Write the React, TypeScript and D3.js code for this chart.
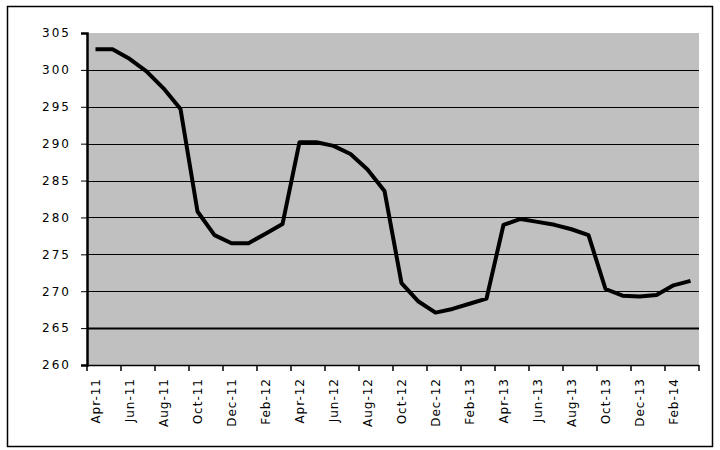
import { FC, useEffect, useRef } from "react";
import * as d3 from "d3";

// monthly categories, Apr-11 .. Mar-14
const months = [
    "Apr-11", "May-11", "Jun-11", "Jul-11", "Aug-11", "Sep-11", "Oct-11", "Nov-11", "Dec-11",
    "Jan-12", "Feb-12", "Mar-12", "Apr-12", "May-12", "Jun-12", "Jul-12", "Aug-12", "Sep-12",
    "Oct-12", "Nov-12", "Dec-12", "Jan-13", "Feb-13", "Mar-13", "Apr-13", "May-13", "Jun-13",
    "Jul-13", "Aug-13", "Sep-13", "Oct-13", "Nov-13", "Dec-13", "Jan-14", "Feb-14", "Mar-14"
];

const values = [
    302.8, 302.8, 301.5, 299.8, 297.5, 294.7, 280.8, 277.6, 276.5,
    276.5, 277.8, 279.1, 290.2, 290.2, 289.7, 288.6, 286.5, 283.6,
    271.1, 268.6, 267.1, 267.6, 268.3, 269.0, 279.0, 279.8, 279.4,
    279.0, 278.4, 277.6, 270.3, 269.4, 269.3, 269.5, 270.8, 271.4
];

const yTicks = [260, 265, 270, 275, 280, 285, 290, 295, 300, 305];

const App: FC = () => {
    const ref = useRef<SVGSVGElement>(null);

    useEffect(() => {
        const svg = d3.select(ref.current);
        svg.selectAll("*").remove();

        var margin = { top: 33, right: 21, bottom: 85, left: 87 },
            width = 720 - margin.left - margin.right,
            height = 450 - margin.top - margin.bottom;

        // outer frame
        svg.append("rect")
            .attr("x", 7.5).attr("y", 6.5)
            .attr("width", 705).attr("height", 440)
            .attr("fill", "#fff")
            .attr("stroke", "#000")
            .attr("stroke-width", 1.5);

        var g = svg.append("g")
            .attr("transform", "translate(" + margin.left + "," + margin.top + ")");

        var x = d3.scaleBand<string>()
            .domain(months)
            .range([0, width]);

        var y = d3.scaleLinear()
            .domain([260, 305])
            .range([height, 0]);

        g.append("rect")
            .attr("width", width)
            .attr("height", height)
            .attr("fill", "#c0c0c0");

        // gridlines
        g.selectAll(".grid")
            .data(yTicks.filter(d => d > 260 && d < 305))
            .enter()
            .append("line")
            .attr("x1", 0).attr("x2", width)
            .attr("y1", d => Math.round(y(d)) + 0.5)
            .attr("y2", d => Math.round(y(d)) + 0.5)
            .attr("stroke", "#000")
            .attr("stroke-width", d => d === 265 ? 2 : 1);

        // Y axis
        var yAxis = g.append("g")
            .call(d3.axisLeft(y).tickValues(yTicks).tickSize(6).tickPadding(10).tickFormat(d3.format("d")));
        yAxis.select(".domain").attr("stroke-width", 2.5);
        yAxis.selectAll("text")
            .attr("font-family", "DejaVu Sans")
            .attr("font-size", 12)
            .attr("letter-spacing", 2)
            .attr("fill", "#000");

        // X axis (ticks between categories, every second one)
        var xg = g.append("g").attr("transform", "translate(0," + height + ")");
        xg.append("line")
            .attr("x1", 0).attr("x2", width)
            .attr("y1", 0.5).attr("y2", 0.5)
            .attr("stroke", "#000").attr("stroke-width", 1.5);
        var tickPos = months.filter((_, i) => i % 2 === 0).map(m => x(m) as number).concat([width]);
        xg.selectAll(".tk")
            .data(tickPos)
            .enter()
            .append("line")
            .attr("x1", d => d).attr("x2", d => d)
            .attr("y1", 0).attr("y2", 6)
            .attr("stroke", "#000").attr("stroke-width", 1.5);
        xg.selectAll(".lbl")
            .data(months.filter((_, i) => i % 2 === 0))
            .enter()
            .append("text")
            .attr("transform", d => "translate(" + ((x(d) as number) + x.bandwidth() / 2) + ",13) rotate(-90)")
            .attr("text-anchor", "end")
            .attr("dy", "0.35em")
            .attr("font-family", "DejaVu Sans")
            .attr("font-size", 12)
            .attr("letter-spacing", 1)
            .text(d => d);

        // line
        g.append("path")
            .datum(values)
            .attr("fill", "none")
            .attr("stroke", "#000")
            .attr("stroke-width", 4)
            .attr("stroke-linejoin", "round")
            .attr("d", d3.line<number>()
                .x((_, i) => (x(months[i]) as number) + x.bandwidth() / 2)
                .y(d => y(d)));
    }, []);

    return (
        <svg ref={ref} width={720} height={450}
            style={{ position: "absolute", left: 0, top: 0, background: "#fff" }} />
    );
};

export default App;
